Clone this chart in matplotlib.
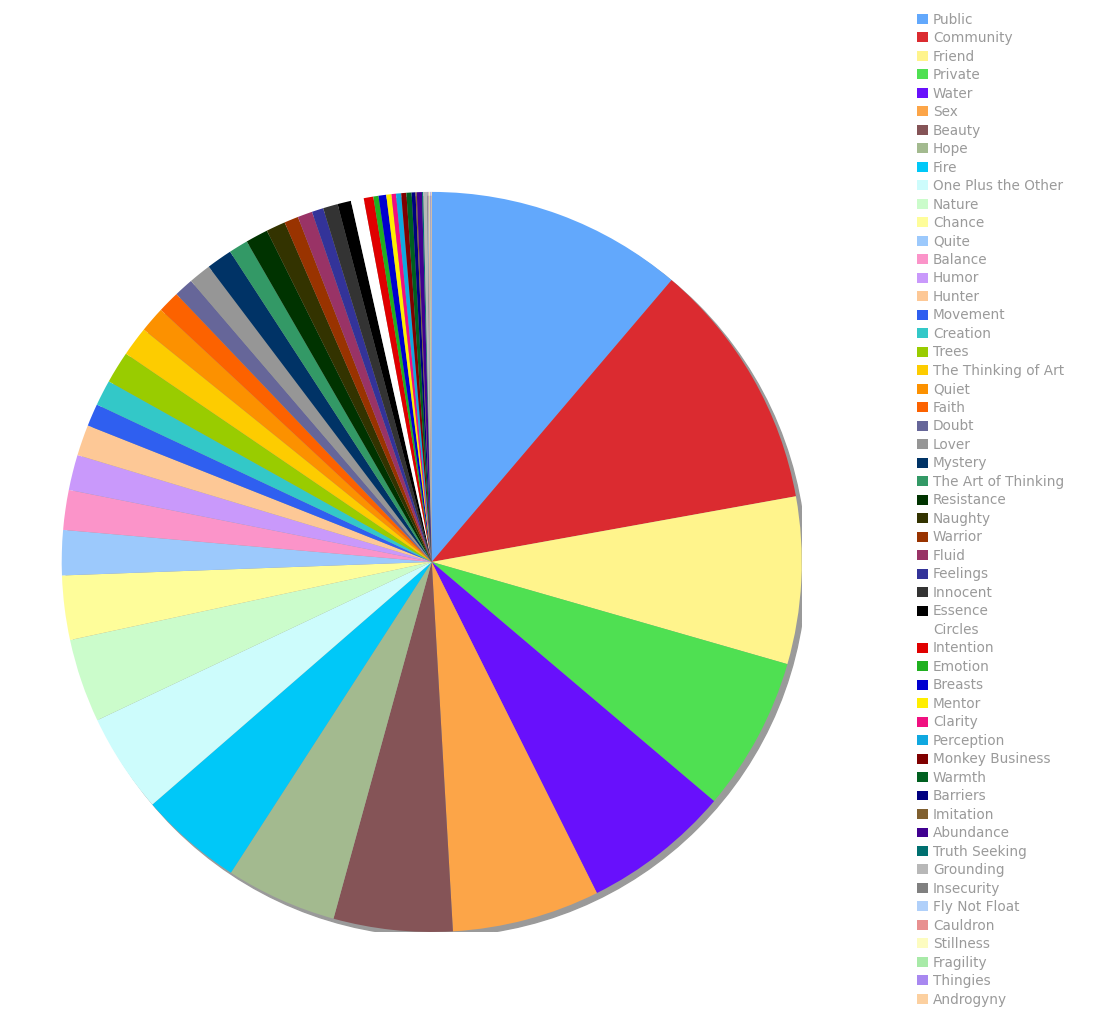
import matplotlib.pyplot as plt
from matplotlib.patches import Patch, Circle

labels = ['Public', 'Community', 'Friend', 'Private', 'Water', 'Sex', 'Beauty', 'Hope', 'Fire',
          'One Plus the Other', 'Nature', 'Chance', 'Quite', 'Balance', 'Humor', 'Hunter',
          'Movement', 'Creation', 'Trees', 'The Thinking of Art', 'Quiet', 'Faith', 'Doubt',
          'Lover', 'Mystery', 'The Art of Thinking', 'Resistance', 'Naughty', 'Warrior', 'Fluid',
          'Feelings', 'Innocent', 'Essence', 'Circles', 'Intention', 'Emotion', 'Breasts',
          'Mentor', 'Clarity', 'Perception', 'Monkey Business', 'Warmth', 'Barriers',
          'Imitation', 'Abundance', 'Truth Seeking', 'Grounding', 'Insecurity', 'Fly Not Float',
          'Cauldron', 'Stillness', 'Fragility', 'Thingies', 'Androgyny']
values = [40, 39, 26, 24, 23, 23, 18.5, 17.3, 16, 15.5, 13, 10, 7, 6.2, 5.5, 4.8, 3.5, 4, 5,
          4.6, 4, 3.4, 3, 3.5, 4, 3, 3.5, 3, 2.2, 2.3, 1.8, 2.3, 2.1, 2, 1.5, 0.8, 1.2, 0.8,
          0.7, 0.8, 0.8, 0.8, 0.6, 0.2, 0.8, 0.2, 0.6, 0.1, 0.1, 0.1, 0.1, 0.1, 0.1, 0.1]
colors = ['#62a8fc', '#db2b30', '#fff48c', '#4fe052', '#6810fc', '#fca548', '#855457', '#a3ba8f',
          '#00c8f8', '#cdfcfc', '#cbfccb', '#fefd9a', '#9cc9fc', '#fb94c9', '#c999fb', '#fdc896',
          '#2f5ff0', '#33c8c8', '#99cc00', '#fdcc00', '#fc9100', '#fc6200', '#666699', '#969696',
          '#003366', '#339966', '#003300', '#333300', '#993300', '#993366', '#333399', '#333333',
          '#000000', '#ffffff', '#e00000', '#20b020', '#0000d0', '#ffee00', '#f01080', '#10a8e0',
          '#800000', '#006020', '#000080', '#806030', '#400090', '#007070', '#b8b8b8', '#808080',
          '#b0d0fa', '#e89090', '#fdfcc0', '#a8eaa8', '#a888f0', '#fcd0a0']

fig = plt.figure(figsize=(11, 10.23), dpi=100)
ax = fig.add_axes([0.056, 0.089, 0.673, 0.7234])
# soft drop shadow toward lower right
ax.add_patch(Circle((0.012, -0.012), 1.0, color='#9a9a9a', zorder=0))
ax.pie(values, colors=colors, startangle=90, counterclock=False)
ax.set_xlim(-1.0, 1.0)
ax.set_ylim(-1.0, 1.0)
ax.set_aspect('equal')

handles = [Patch(facecolor=c if c != '#ffffff' else 'none', edgecolor='none') for c in colors]
fig.legend(handles, labels, loc='upper left', bbox_to_anchor=(0.829, 0.993), frameon=False,
           fontsize=9.8, labelcolor='#9a9a9a', handlelength=0.75, handleheight=0.75,
           handletextpad=0.4, labelspacing=0.33, borderaxespad=0)
fig.savefig('out.png')
